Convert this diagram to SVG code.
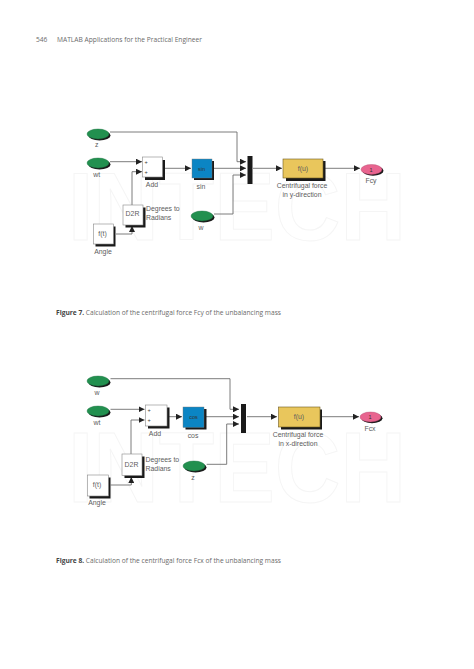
<svg xmlns="http://www.w3.org/2000/svg" width="474" height="669" viewBox="0 0 474 669">
<defs>
<marker id="arr" markerUnits="userSpaceOnUse" markerWidth="6" markerHeight="6" refX="6" refY="3" orient="auto"><path d="M0,0 L6,3 L0,6 Z" fill="#222"/></marker>
</defs>
<style>
text{font-family:"Liberation Sans",Arial,sans-serif;font-size:6.9px;fill:#5c5c5c;text-anchor:middle}
.pg{font-family:"Open Sans","Noto Sans",sans-serif;text-anchor:start;font-size:6.6px;fill:#6a6a6a}
.wm{font-family:"Liberation Sans",Arial,sans-serif;font-weight:bold;font-size:96px;fill:none;stroke:#f5f5f5;stroke-width:1;text-anchor:start}
.c{fill:none;stroke:#6e6e6e;stroke-width:.9;marker-end:url(#arr)}
.s{fill:#1a1a1a}
.b{fill:#fff;stroke:#888;stroke-width:.6}
.g{fill:#22904f;stroke:#1a7040;stroke-width:.4}
.p{fill:#e8648f;stroke:#b0466c;stroke-width:.4}
.bl{fill:#0b85c4;stroke:#777;stroke-width:.4}
.y{fill:#e9c65c;stroke:#6e5a1e;stroke-width:.6}
.in{font-size:5.5px;fill:#333}
</style>
<rect width="474" height="669" fill="#fff"/>
<text class="wm" x="68" y="240" textLength="338" lengthAdjust="spacingAndGlyphs">INTECH</text>
<text class="wm" x="68" y="502" style="font-size:100px" textLength="338" lengthAdjust="spacingAndGlyphs">INTECH</text>
<text class="pg" x="36" y="42">546</text>
<text class="pg" x="57" y="42" textLength="145" lengthAdjust="spacingAndGlyphs">MATLAB Applications for the Practical Engineer</text>
<text class="pg" x="56" y="315" textLength="225" lengthAdjust="spacingAndGlyphs"><tspan font-weight="bold" fill="#444">Figure 7.</tspan> Calculation of the centrifugal force Fcy of the unbalancing mass</text>
<text class="pg" x="56" y="563" textLength="225" lengthAdjust="spacingAndGlyphs"><tspan font-weight="bold" fill="#444">Figure 8.</tspan> Calculation of the centrifugal force Fcx of the unbalancing mass</text>

<g id="connectors">
<path class="c" d="M110,132 H237 V161.7 H246"/>
<path class="c" d="M110,161.7 H142"/>
<path class="c" d="M132,205 V171.7 H142"/>
<path class="c" d="M165,168.3 H191"/>
<path class="c" d="M214,168.3 H246"/>
<path class="c" d="M214,214 H233 V175 H246"/>
<path class="c" d="M116,234 H132 V226"/>
<path class="c" d="M253,168.3 H282"/>
<path class="c" d="M325,168.3 H360"/>
<path class="c" d="M110.500,378.700 H230 V409.300 H239"/>
<path class="c" d="M110.500,409.300 H144.500"/>
<path class="c" d="M131,454 V420 H144.500"/>
<path class="c" d="M168,416.700 H182"/>
<path class="c" d="M206,416.700 H239"/>
<path class="c" d="M206.700,464.300 H226.700 V424 H239"/>
<path class="c" d="M110.700,485 H131.300 V477"/>
<path class="c" d="M247,416.700 H277"/>
<path class="c" d="M322,416.700 H359"/>
</g>

<g id="in-z-y"><ellipse class="s" cx="99.500" cy="135.500" rx="11" ry="5"/><ellipse class="g" cx="98" cy="134" rx="11" ry="5"/><text x="96.700" y="147">z</text></g>
<g id="in-wt-y"><ellipse class="s" cx="99.500" cy="164.500" rx="11" ry="5"/><ellipse class="g" cx="98" cy="163" rx="11" ry="5"/><text x="96.700" y="176.500">wt</text></g>
<g id="add-y"><rect class="s" x="145" y="160" width="20" height="20"/><rect class="b" x="142.500" y="157" width="20" height="20"/><text class="in" x="146" y="163.500">+</text><text class="in" x="146" y="173.500">+</text><text x="152" y="187">Add</text></g>
<g id="sin-y"><rect class="s" x="194" y="161" width="20" height="19"/><rect class="bl" x="192" y="159" width="20" height="19"/><text class="in" x="201.500" y="170.500">sin</text><text x="201" y="188.500">sin</text></g>
<g id="w-y"><ellipse class="s" cx="203.500" cy="217.500" rx="11" ry="5"/><ellipse class="g" cx="202" cy="216" rx="11" ry="5"/><text x="201" y="229.500">w</text></g>
<g id="d2r-y"><rect class="s" x="125.500" y="207.500" width="20" height="20"/><rect class="b" x="123" y="205" width="20" height="20"/><text x="132.500" y="215.500">D2R</text><text x="146" y="211" style="text-anchor:start">Degrees to</text><text x="146" y="220" style="text-anchor:start">Radians</text></g>
<g id="angle-y"><rect class="s" x="95.500" y="226.500" width="20" height="20"/><rect class="b" x="93.500" y="224" width="20" height="20"/><text x="102.500" y="235.500">f(t)</text><text x="103" y="254">Angle</text></g>
<g id="mux-y"><rect class="s" x="247.500" y="156" width="5" height="28"/></g>
<g id="fu-y"><rect class="s" x="286" y="161" width="39.500" height="20"/><rect class="y" x="283" y="159" width="40" height="19"/><text x="303" y="170.500">f(u)</text><text x="302" y="188">Centrifugal force</text><text x="302" y="196.500">in y-direction</text></g>
<g id="out-y"><ellipse class="s" cx="373" cy="170.800" rx="10.500" ry="5"/><ellipse class="p" cx="371.500" cy="169.500" rx="10.500" ry="5"/><text class="in" x="371" y="171.500">1</text><text x="371" y="183">Fcy</text></g>

<g id="in-w-x"><ellipse class="s" cx="99.500" cy="382.500" rx="11" ry="5"/><ellipse class="g" cx="98" cy="381" rx="11" ry="5"/><text x="97" y="394.500">w</text></g>
<g id="in-wt-x"><ellipse class="s" cx="99.500" cy="412.500" rx="11" ry="5"/><ellipse class="g" cx="98" cy="411" rx="11" ry="5"/><text x="97" y="425">wt</text></g>
<g id="add-x"><rect class="s" x="148" y="407.500" width="21.500" height="21"/><rect class="b" x="145.500" y="405" width="21.500" height="21"/><text class="in" x="149" y="411.500">+</text><text class="in" x="149" y="422">+</text><text x="155" y="436">Add</text></g>
<g id="cos-x"><rect class="s" x="185.500" y="409" width="21" height="20.500"/><rect class="bl" x="183" y="407" width="21" height="20.500"/><text class="in" x="193.500" y="418.500">cos</text><text x="193" y="438">cos</text></g>
<g id="z-x"><ellipse class="s" cx="195.500" cy="467.500" rx="11" ry="5"/><ellipse class="g" cx="194" cy="466" rx="11" ry="5"/><text x="193" y="480">z</text></g>
<g id="d2r-x"><rect class="s" x="124.500" y="456.500" width="20" height="21.500"/><rect class="b" x="122" y="454" width="20" height="21.500"/><text x="131.500" y="466.500">D2R</text><text x="145.500" y="461.500" style="text-anchor:start">Degrees to</text><text x="145.500" y="471" style="text-anchor:start">Radians</text></g>
<g id="angle-x"><rect class="s" x="89.500" y="477.500" width="21" height="21"/><rect class="b" x="87.500" y="475" width="21" height="21"/><text x="97" y="487">f(t)</text><text x="97" y="505">Angle</text></g>
<g id="mux-x"><rect class="s" x="241" y="404" width="5" height="29"/></g>
<g id="fu-x"><rect class="s" x="281" y="409.500" width="41" height="20"/><rect class="y" x="278.500" y="407" width="41.500" height="20"/><text x="299" y="419">f(u)</text><text x="298" y="437">Centrifugal force</text><text x="298" y="446">in x-direction</text></g>
<g id="out-x"><ellipse class="s" cx="372" cy="418.300" rx="10.500" ry="5"/><ellipse class="p" cx="370.500" cy="417" rx="10.500" ry="5"/><text class="in" x="370" y="419">1</text><text x="370" y="431">Fcx</text></g>
</svg>
